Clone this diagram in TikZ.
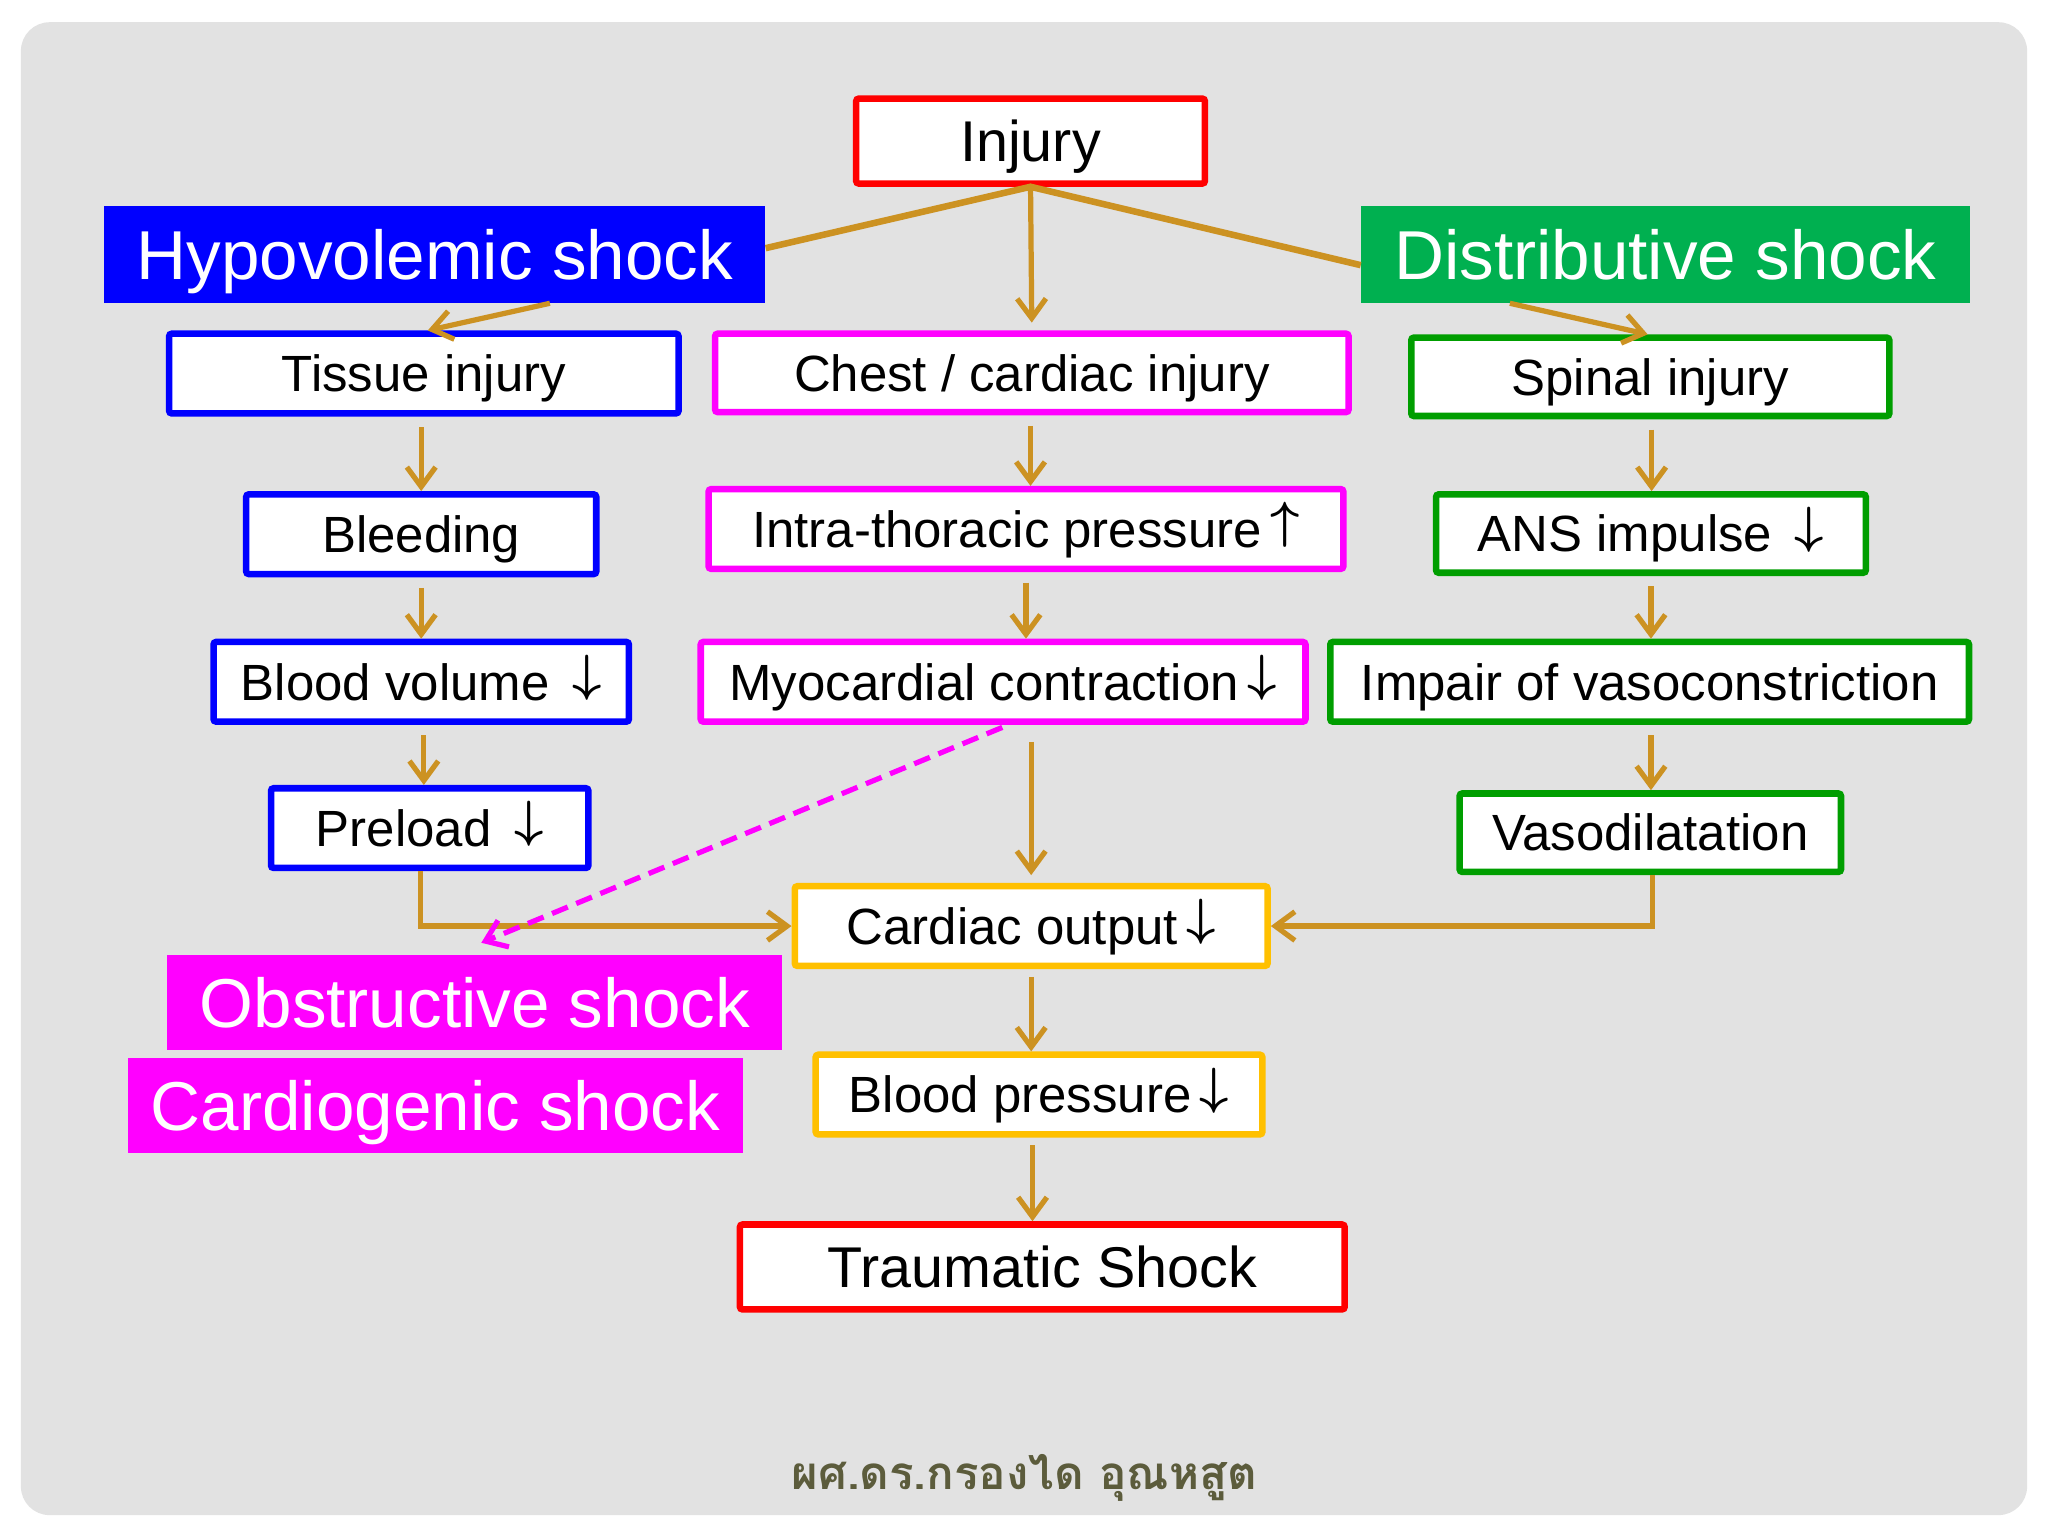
\RequirePackage{fix-cm}
\documentclass[tikz,border=0pt]{standalone}
\usepackage{fontspec}
\setmainfont{Liberation Sans}
\newfontfamily\thaifont[Script=Thai]{Loma}
\usetikzlibrary{arrows.meta}
\definecolor{bgc}{RGB}{226,226,226}
\definecolor{arrowc}{RGB}{204,146,34}
\definecolor{bluec}{RGB}{0,0,255}
\definecolor{magc}{RGB}{255,0,255}
\definecolor{greenb}{RGB}{0,158,0}
\definecolor{greenf}{RGB}{0,176,80}
\definecolor{yellc}{RGB}{255,192,0}
\definecolor{redc}{RGB}{255,0,0}
\definecolor{thaic}{RGB}{92,92,60}
\newcommand{\dnarr}{\raisebox{0.19em}{\boldmath$\downarrow$}}
\newcommand{\uparr}{\raisebox{0.19em}{\boldmath$\uparrow$}}
\tikzset{
  box/.style={draw, line width=5pt, fill=white, inner sep=0pt, rounded corners=2pt,
    text=black, font=\fontsize{39}{44}\selectfont, text height=28pt, text depth=0pt},
  bigbox/.style={box, font=\fontsize{44}{50}\selectfont, text height=31.5pt},
  hdr/.style={inner sep=0pt, text=white, font=\fontsize{53}{60}\selectfont,
    text height=38pt, text depth=0pt},
  ln/.style={draw=arrowc, line width=5pt},
  arr/.style={draw=arrowc, line width=4pt, -{Straight Barb[length=15pt,width=22pt]}},
  darr/.style={draw=magc, line width=4pt, dash pattern=on 13pt off 7pt,
    -{Straight Barb[length=15pt,width=22pt]}},
}
\begin{document}
\begin{tikzpicture}[x=1pt,y=-1pt]
\useasboundingbox (0,0) rectangle (1568,1176);
\fill[white] (0,0) rectangle (1568,1176);
\fill[bgc, rounded corners=22pt] (16,17) rectangle (1552,1160);

% nodes
\node[bigbox, draw=redc, minimum width=267, minimum height=65] (inj) at (789,108) {Injury};
\node[hdr, fill=bluec, minimum width=506, minimum height=74] (hypo) at (333,195) {Hypovolemic shock};
\node[hdr, fill=greenf, minimum width=466, minimum height=74] (dist) at (1275,195) {Distributive shock};

\node[box, draw=bluec, minimum width=390, minimum height=61] (tis) at (324.5,286) {Tissue injury};
\node[box, draw=magc, minimum width=485, minimum height=60] (chest) at (790,285.5) {Chest / cardiac injury};
\node[box, draw=greenb, minimum width=366, minimum height=60] (spin) at (1263.5,288.5) {Spinal injury};

\node[box, draw=bluec, minimum width=268, minimum height=61] (bleed) at (322.5,409) {Bleeding};
\node[box, draw=magc, minimum width=486, minimum height=61] (intra) at (785.5,405) {Intra-thoracic pressure\,\uparr};
\node[box, draw=greenb, minimum width=329, minimum height=60] (ans) at (1264,408.5) {ANS impulse \,\dnarr};

\node[box, draw=bluec, minimum width=318, minimum height=61] (bv) at (322.5,522) {Blood volume \,\dnarr};
\node[box, draw=magc, minimum width=463, minimum height=61] (myo) at (768,522) {Myocardial contraction\,\dnarr};
\node[box, draw=greenb, minimum width=489, minimum height=61] (imp) at (1263,522) {Impair of vasoconstriction};

\node[box, draw=bluec, minimum width=243, minimum height=61] (pre) at (329,634) {Preload \,\dnarr};
\node[box, draw=greenb, minimum width=292, minimum height=60] (vaso) at (1263.5,637.5) {Vasodilatation};

\node[box, draw=yellc, minimum width=362, minimum height=61] (co) at (789.5,709) {Cardiac output\,\dnarr};
\node[hdr, fill=magc, minimum width=471, minimum height=73] (obs) at (363.5,767.5) {Obstructive shock};
\node[hdr, fill=magc, minimum width=471, minimum height=73] (cardio) at (333.5,846.5) {Cardiogenic shock};
\node[box, draw=yellc, minimum width=342, minimum height=61] (bp) at (795.5,838) {Blood pressure\,\dnarr};
\node[bigbox, draw=redc, minimum width=463, minimum height=65] (trau) at (798,970) {Traumatic Shock};

\node[anchor=base, text=thaic, font=\thaifont\bfseries\fontsize{35}{40}\selectfont, inner sep=0pt] (auth) at (784,1140) {ผศ.ดร.กรองได อุณหสูต};

% connectors
\draw[ln] ([yshift=5pt]hypo.east) -- (inj.south) -- ([yshift=-8pt]dist.west);
\draw[arr, shorten >=6pt] (inj.south) -- (chest.north);
\draw[arr] ([xshift=88pt]hypo.south) -- ([xshift=3pt]tis.north);
\draw[arr] ([xshift=-119pt]dist.south) -- ([xshift=-2pt]spin.north);

\draw[arr, shorten <=8pt] ([xshift=-2pt]tis.south) -- ([xshift=-2pt]tis.south |- bleed.north);
\draw[arr, shorten <=8pt] (bleed.south) -- (bleed.south |- bv.north);
\draw[arr, shorten <=8pt] ([xshift=2pt]bv.south) -- ([xshift=2pt]bv.south |- pre.north);
\draw[arr] ([xshift=-7pt]pre.south) |- (co.west);

\draw[arr, shorten <=8pt] ([xshift=-1pt]chest.south) -- ([xshift=-1pt]chest.south |- intra.north);
\draw[arr, shorten <=8pt] (intra.south) -- (intra.south |- myo.north);
\draw[arr, shorten <=13pt, shorten >=6pt] (co.north |- myo.south) -- (co.north);
\draw[darr, shorten <=5pt] ([xshift=4pt]myo.south) -- ([xshift=5pt,yshift=9pt]obs.north);

\draw[arr, shorten <=8pt] ([xshift=1pt]spin.south) -- ([xshift=1pt]spin.south |- ans.north);
\draw[arr, shorten <=8pt] (ans.south) -- (ans.south |- imp.north);
\draw[arr, shorten <=8pt] ([xshift=1pt]imp.south) -- ([xshift=1pt]imp.south |- vaso.north);
\draw[arr] ([xshift=1.5pt]vaso.south) |- (co.east);

\draw[arr, shorten <=6pt] (co.south) -- (co.south |- bp.north);
\draw[arr, shorten <=6pt] ([xshift=-5pt]bp.south) -- ([xshift=-5pt]bp.south |- trau.north);
\end{tikzpicture}
\end{document}
